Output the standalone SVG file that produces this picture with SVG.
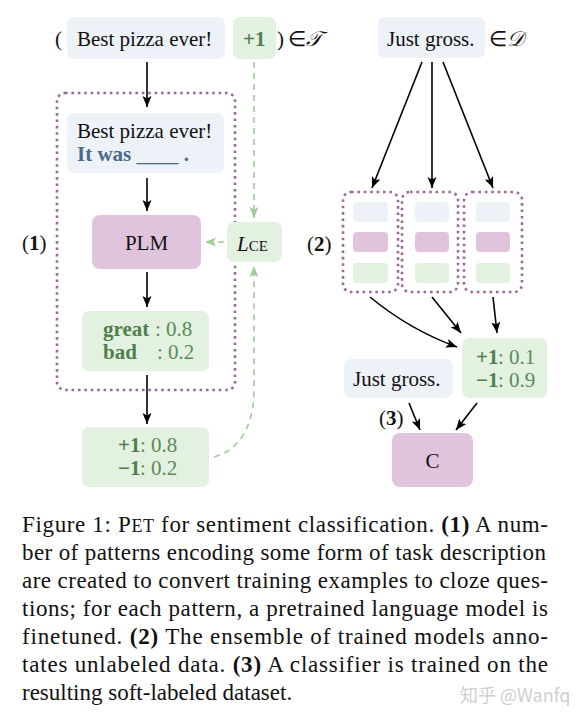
<svg xmlns="http://www.w3.org/2000/svg" width="587" height="722" viewBox="0 0 587 722">
<defs>
<marker id="ab" markerUnits="userSpaceOnUse" markerWidth="12" markerHeight="10" refX="11" refY="4.5" orient="auto"><path d="M0,0 L11,4.5 L0,9 L2.5,4.5 z" fill="#000"/></marker>
<marker id="ag" markerUnits="userSpaceOnUse" markerWidth="12" markerHeight="10" refX="11" refY="4.5" orient="auto"><path d="M0,0 L11,4.5 L0,9 L2.5,4.5 z" fill="#9fcd98"/></marker>
</defs>
<style>
text{font-family:"Liberation Serif","Times New Roman",serif;fill:#111;}
.t{font-size:21px;}
.b{font-weight:bold;}
.gb{font-weight:bold;fill:#4f7f4c;}
.gn{fill:#5a8a56;}
.blue{fill:#edf2f8;}
.green{fill:#e3f1e1;}
.purp{fill:#e0c4de;}
.dot{fill:none;stroke:#9b6a9b;stroke-width:2.6;stroke-dasharray:2.6 3.8;}
.k{stroke:#000;stroke-width:1.6;fill:none;marker-end:url(#ab);}
.g{stroke:#9fcd98;stroke-width:1.6;fill:none;stroke-dasharray:6 5;marker-end:url(#ag);}
.cap{font-size:23px;}
</style>
<rect width="587" height="722" fill="#fff"/>

<g id="input">
<text class="t" x="55" y="46">(</text>
<rect class="blue" x="67" y="17" width="158" height="42" rx="7"/>
<text class="t" x="77" y="46">Best pizza ever!</text>
<rect class="green" x="233" y="17" width="43" height="42" rx="7"/>
<text class="t gb" x="243" y="46">+1</text>
<text class="t" x="277" y="46">)</text>
<text class="t" x="288" y="46">∈</text>
<text class="t" x="306" y="46" font-style="italic">𝒯</text>
</g>

<g id="pattern-group"><rect class="dot" x="57" y="93" width="178" height="297" rx="8"/></g>

<g id="pattern">
<rect class="blue" x="67" y="113" width="157" height="60" rx="7"/>
<text class="t" x="77" y="138">Best pizza ever!</text>
<text class="t b" x="77" y="161" fill="#4a6b8a" style="fill:#4a6b8a">It was <tspan font-weight="normal" style="fill:#4a6b8a">____</tspan> .</text>
</g>

<g id="plm">
<rect class="purp" x="92" y="215" width="109" height="54" rx="8"/>
<text class="t" x="146.5" y="250" text-anchor="middle">PLM</text>
</g>

<g id="lce">
<rect class="green" x="227" y="222" width="55" height="40" rx="7"/>
<text class="t" x="237" y="251" font-style="italic">L<tspan font-style="normal" font-size="15">CE</tspan></text>
</g>

<g id="verbalizer">
<rect class="green" x="82" y="311" width="127" height="60" rx="7"/>
<text class="t gb" x="103" y="336">great</text><text class="t gn" x="155" y="336">: 0.8</text>
<text class="t gb" x="103" y="359">bad</text><text class="t gn" x="157" y="359">: 0.2</text>
</g>

<g id="labels">
<rect class="green" x="82" y="427" width="127" height="60" rx="7"/>
<text class="t gb" x="118" y="452">+1</text><text class="t gn" x="140" y="452">: 0.8</text>
<text class="t gb" x="118" y="475">−1</text><text class="t gn" x="140" y="475">: 0.2</text>
</g>

<g id="label1"><text class="t" x="22" y="250">(<tspan font-weight="bold">1</tspan>)</text></g>

<g id="unlabeled">
<rect class="blue" x="378" y="17" width="107" height="41" rx="7"/>
<text class="t" x="387" y="46">Just gross.</text>
<text class="t" x="489" y="46">∈</text>
<text class="t" x="507" y="46" font-style="italic">𝒟</text>
</g>

<g id="ensemble1">
<rect class="dot" x="343" y="192" width="55" height="100" rx="8"/>
<rect class="blue" x="353" y="202" width="35" height="20" rx="4"/>
<rect class="purp" x="353" y="232" width="35" height="20" rx="4"/>
<rect class="green" x="353" y="263" width="35" height="20" rx="4"/>
</g>
<g id="ensemble2">
<rect class="dot" x="402" y="192" width="56" height="100" rx="8"/>
<rect class="blue" x="415" y="202" width="34" height="20" rx="4"/>
<rect class="purp" x="415" y="232" width="34" height="20" rx="4"/>
<rect class="green" x="415" y="263" width="34" height="20" rx="4"/>
</g>
<g id="ensemble3">
<rect class="dot" x="464" y="192" width="58" height="100" rx="8"/>
<rect class="blue" x="476" y="202" width="34" height="20" rx="4"/>
<rect class="purp" x="476" y="232" width="34" height="20" rx="4"/>
<rect class="green" x="476" y="263" width="34" height="20" rx="4"/>
</g>

<g id="label2"><text class="t" x="307" y="251">(<tspan font-weight="bold">2</tspan>)</text></g>

<g id="soft-label">
<rect class="green" x="462" y="338" width="85" height="60" rx="7"/>
<text class="t gb" x="476" y="364">+1</text><text class="t gn" x="498" y="364">: 0.1</text>
<text class="t gb" x="476" y="387">−1</text><text class="t gn" x="498" y="387">: 0.9</text>
</g>

<g id="unlabeled2">
<rect class="blue" x="344" y="359" width="109" height="39" rx="7"/>
<text class="t" x="353" y="386">Just gross.</text>
</g>

<g id="label3"><text class="t" x="379" y="425">(<tspan font-weight="bold">3</tspan>)</text></g>

<g id="classifier">
<rect class="purp" x="392" y="433" width="81" height="54" rx="8"/>
<text class="t" x="432.5" y="468" text-anchor="middle">C</text>
</g>

<g id="connectors">
<path class="k" d="M147,62 L147,107"/>
<path class="k" d="M147,178 L147,211"/>
<path class="k" d="M147,272 L147,307"/>
<path class="k" d="M147,375 L147,424"/>
<path class="g" d="M254,62 L254,218"/>
<path class="g" d="M224,242 L205,242" stroke-dasharray="none"/>
<path class="g" d="M214,457 C 240,450 254,425 254,390 L 254,266"/>
<path class="k" d="M422,62 L372,188"/>
<path class="k" d="M432,62 L432,188"/>
<path class="k" d="M443,62 L493,188"/>
<path class="k" d="M370,297 Q 410,330 457,347"/>
<path class="k" d="M432,297 L461,333"/>
<path class="k" d="M493,297 L497,333"/>
<path class="k" d="M409,403 L420,430"/>
<path class="k" d="M477,403 L456,430"/>
</g>

<g id="caption">
<text class="cap" x="22" y="532" textLength="526" lengthAdjust="spacing">Figure 1: P<tspan font-size="18">ET</tspan> for sentiment classification. <tspan font-weight="bold">(1)</tspan> A num-</text>
<text class="cap" x="22" y="560" textLength="524" lengthAdjust="spacing">ber of patterns encoding some form of task description</text>
<text class="cap" x="22" y="588" textLength="526" lengthAdjust="spacing">are created to convert training examples to cloze ques-</text>
<text class="cap" x="22" y="616" textLength="526" lengthAdjust="spacing">tions; for each pattern, a pretrained language model is</text>
<text class="cap" x="22" y="644" textLength="526" lengthAdjust="spacing">finetuned.  <tspan font-weight="bold">(2)</tspan> The ensemble of trained models anno-</text>
<text class="cap" x="22" y="672" textLength="526" lengthAdjust="spacing">tates unlabeled data.  <tspan font-weight="bold">(3)</tspan> A classifier is trained on the</text>
<text class="cap" x="22" y="700">resulting soft-labeled dataset.</text>
<text x="460" y="702" font-size="18" style="fill:#cfcfcf;font-family:'Noto Sans CJK SC','Liberation Sans',sans-serif">知乎 @Wanfq</text>
</g>
</svg>
